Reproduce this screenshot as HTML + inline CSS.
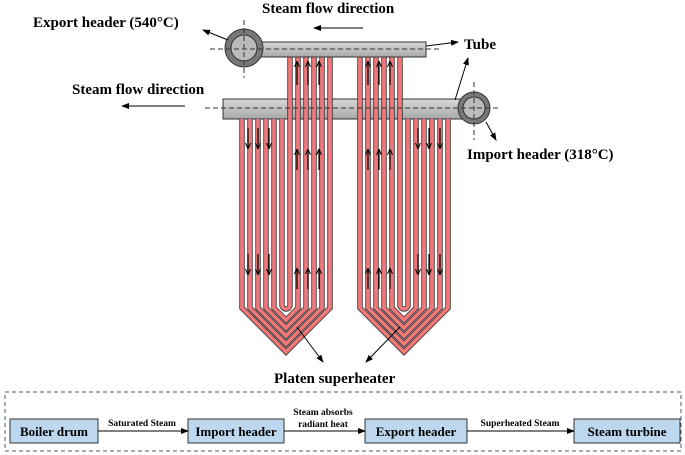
<!DOCTYPE html>
<html><head><meta charset="utf-8"><style>
html,body{margin:0;padding:0;background:#fff;}
svg{display:block;font-family:"Liberation Serif",serif;}
</style></head><body>
<svg width="685" height="455" viewBox="0 0 685 455" xmlns="http://www.w3.org/2000/svg">
<defs>
<marker id="ah" markerWidth="8" markerHeight="8" refX="7" refY="4" orient="auto" markerUnits="userSpaceOnUse"><path d="M0,1 L8,4 L0,7 Z" fill="#000"/></marker>
<marker id="ah2" markerWidth="6" markerHeight="6" refX="5" refY="3" orient="auto" markerUnits="userSpaceOnUse"><path d="M0,0.5 L6,3 L0,5.5" fill="none" stroke="#000" stroke-width="1"/></marker>
<linearGradient id="tg" x1="0" y1="0" x2="0" y2="1"><stop offset="0" stop-color="#d8d8d8"/><stop offset="1" stop-color="#a8a8a8"/></linearGradient>
<g id="plL">
<path d="M242,119 V308 L286,352 L330,308 V57"/>
<path d="M250,119 V308 L286,344 L322,308 V57"/>
<path d="M258,119 V308 L286,336 L314,308 V57"/>
<path d="M266,119 V308 L286,328 L306,308 V57"/>
<path d="M274,119 V308 L286,320 L298,308 V57"/>
<path d="M282,119 V305 A4,4 0 0 0 290,305 V57"/>
</g>
<g id="plR">
<path d="M360,57 V308 L404,352 L448,308 V119"/>
<path d="M368,57 V308 L404,344 L440,308 V119"/>
<path d="M376,57 V308 L404,336 L432,308 V119"/>
<path d="M384,57 V308 L404,328 L424,308 V119"/>
<path d="M392,57 V308 L404,320 L416,308 V119"/>
<path d="M400,57 V305 A4,4 0 0 0 408,305 V119"/>
</g>
</defs>

<rect x="223" y="99" width="250" height="20" fill="url(#tg)" stroke="#333" stroke-width="1"/>

<g fill="none" stroke="#333" stroke-width="5.4"><use href="#plL"/><use href="#plR"/></g>
<g fill="none" stroke="#f07878" stroke-width="3.8"><use href="#plL"/><use href="#plR"/></g>

<rect x="244" y="42" width="182" height="15" fill="url(#tg)" stroke="#333" stroke-width="1"/>
<circle cx="244" cy="48" r="19" fill="#777" stroke="#333"/>
<circle cx="244" cy="48" r="13" fill="#bbb" stroke="#333"/>
<circle cx="474" cy="108" r="16" fill="#777" stroke="#333"/>
<circle cx="474" cy="108" r="11" fill="#bbb" stroke="#333"/>

<g stroke="#333" stroke-width="1" stroke-dasharray="5,3" fill="none">
<line x1="210" y1="49" x2="440" y2="49"/>
<line x1="244" y1="20" x2="244" y2="78"/>
<line x1="205" y1="108" x2="500" y2="108"/>
<line x1="474" y1="82" x2="474" y2="140"/>
</g>

<g stroke="#000" stroke-width="1.2" marker-end="url(#ah2)">
<line x1="297" y1="85" x2="297" y2="62"/><line x1="308" y1="85" x2="308" y2="62"/><line x1="319" y1="85" x2="319" y2="62"/>
<line x1="368" y1="85" x2="368" y2="62"/><line x1="379" y1="85" x2="379" y2="62"/><line x1="390" y1="85" x2="390" y2="62"/>
<line x1="248" y1="128" x2="248" y2="148"/><line x1="258" y1="128" x2="258" y2="148"/><line x1="269" y1="128" x2="269" y2="148"/>
<line x1="418" y1="128" x2="418" y2="148"/><line x1="429" y1="128" x2="429" y2="148"/><line x1="440" y1="128" x2="440" y2="148"/>
<line x1="297" y1="170" x2="297" y2="150"/><line x1="308" y1="170" x2="308" y2="150"/><line x1="319" y1="170" x2="319" y2="150"/>
<line x1="368" y1="170" x2="368" y2="150"/><line x1="379" y1="170" x2="379" y2="150"/><line x1="390" y1="170" x2="390" y2="150"/>
<line x1="248" y1="254" x2="248" y2="274"/><line x1="258" y1="254" x2="258" y2="274"/><line x1="269" y1="254" x2="269" y2="274"/>
<line x1="418" y1="254" x2="418" y2="274"/><line x1="429" y1="254" x2="429" y2="274"/><line x1="440" y1="254" x2="440" y2="274"/>
<line x1="297" y1="289" x2="297" y2="269"/><line x1="308" y1="289" x2="308" y2="269"/><line x1="319" y1="289" x2="319" y2="269"/>
<line x1="368" y1="289" x2="368" y2="269"/><line x1="379" y1="289" x2="379" y2="269"/><line x1="390" y1="289" x2="390" y2="269"/>
</g>

<g stroke="#000" stroke-width="1" marker-end="url(#ah)">
<line x1="363" y1="28" x2="314" y2="28"/>
<line x1="185" y1="106" x2="122" y2="106"/>
<line x1="426" y1="46" x2="458" y2="42"/>
<line x1="455" y1="100" x2="468" y2="58"/>
<line x1="228" y1="40" x2="203" y2="30"/>
<line x1="486" y1="122" x2="496" y2="140"/>
<line x1="297" y1="327" x2="323" y2="362"/>
<line x1="400" y1="327" x2="366" y2="362"/>
</g>

<g font-weight="bold" font-size="15" fill="#000">
<text x="33" y="27">Export header (540°C)</text>
<text x="262" y="13">Steam flow direction</text>
<text x="464" y="49">Tube</text>
<text x="72" y="94">Steam flow direction</text>
<text x="467" y="159">Import header (318°C)</text>
<text x="274" y="383">Platen superheater</text>
</g>

<rect x="5" y="392" width="676" height="59" fill="none" stroke="#4a5a7a" stroke-width="1" stroke-dasharray="4,3"/>
<g fill="#bcd7ee" stroke="#333" stroke-width="1">
<rect x="10" y="419" width="88" height="24"/>
<rect x="188" y="419" width="96" height="24"/>
<rect x="365" y="419" width="102" height="24"/>
<rect x="574" y="419" width="106" height="24"/>
</g>
<g stroke="#000" stroke-width="1" marker-end="url(#ah)">
<line x1="98" y1="431" x2="188" y2="431"/>
<line x1="284" y1="431" x2="365" y2="431"/>
<line x1="467" y1="431" x2="574" y2="431"/>
</g>
<g font-weight="bold" font-size="13" text-anchor="middle" fill="#000">
<text x="54" y="436">Boiler drum</text>
<text x="236" y="436">Import header</text>
<text x="416" y="436">Export header</text>
<text x="627" y="436">Steam turbine</text>
</g>
<g font-weight="bold" font-size="9.5" text-anchor="middle" fill="#000">
<text x="142" y="426">Saturated Steam</text>
<text x="323" y="415">Steam absorbs</text>
<text x="323" y="427">radiant heat</text>
<text x="520" y="426">Superheated Steam</text>
</g>
</svg>
</body></html>
